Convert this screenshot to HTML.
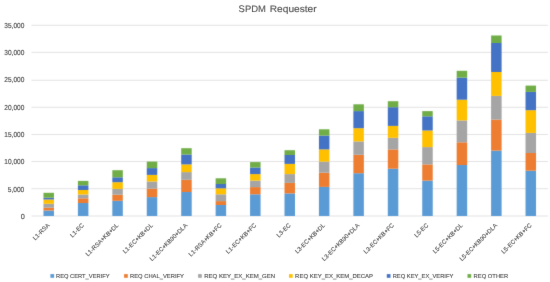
<!DOCTYPE html>
<html><head><meta charset="utf-8"><style>
html,body{margin:0;padding:0;background:#fff;width:550px;height:282px;overflow:hidden}
svg{display:block;text-rendering:geometricPrecision}
.ax{font-family:'Liberation Sans', Arial, sans-serif;font-size:6px;fill:#505050;stroke:#505050;stroke-width:0.12px}
.yl{font-family:'Liberation Sans', Arial, sans-serif;font-size:7.3px;fill:#505050;stroke:#505050;stroke-width:0.16px}
.lg{font-family:'Liberation Sans', Arial, sans-serif;font-size:5.7px;fill:#505050;stroke:#505050;stroke-width:0.12px}
.tt{font-family:'Liberation Sans', Arial, sans-serif;font-size:9.5px;fill:#505050;stroke:#505050;stroke-width:0.12px}
</style></head><body>
<svg width="550" height="282" viewBox="0 0 550 282">
<defs>
<filter id="bg" x="0" y="0" width="550" height="282" filterUnits="userSpaceOnUse" color-interpolation-filters="sRGB"><feConvolveMatrix order="3" kernelMatrix="0.01134 0.08382 0.01134 0.08382 0.61935 0.08382 0.01134 0.08382 0.01134" edgeMode="duplicate" preserveAlpha="true"/></filter>
<filter id="bt" x="0" y="0" width="550" height="282" filterUnits="userSpaceOnUse" color-interpolation-filters="sRGB"><feConvolveMatrix order="3" kernelMatrix="0.00276 0.04704 0.00276 0.04704 0.80077 0.04704 0.00276 0.04704 0.00276" edgeMode="none"/></filter>
</defs>
<g filter="url(#bg)">
<rect width="550" height="282" fill="#fff"/>
<line x1="31.5" y1="216.00" x2="548.0" y2="216.00" stroke="#E0E0E0" stroke-width="0.9"/>
<line x1="31.5" y1="188.70" x2="548.0" y2="188.70" stroke="#E0E0E0" stroke-width="0.9"/>
<line x1="31.5" y1="161.50" x2="548.0" y2="161.50" stroke="#E0E0E0" stroke-width="0.9"/>
<line x1="31.5" y1="134.50" x2="548.0" y2="134.50" stroke="#E0E0E0" stroke-width="0.9"/>
<line x1="31.5" y1="107.30" x2="548.0" y2="107.30" stroke="#E0E0E0" stroke-width="0.9"/>
<line x1="31.5" y1="80.30" x2="548.0" y2="80.30" stroke="#E0E0E0" stroke-width="0.9"/>
<line x1="31.5" y1="52.40" x2="548.0" y2="52.40" stroke="#E0E0E0" stroke-width="0.9"/>
<line x1="31.5" y1="25.30" x2="548.0" y2="25.30" stroke="#E0E0E0" stroke-width="0.9"/>
<rect x="43.47" y="210.50" width="10.5" height="5.50" fill="#5B9BD5"/>
<rect x="43.47" y="207.70" width="10.5" height="2.80" fill="#ED7D31"/>
<rect x="43.47" y="203.80" width="10.5" height="3.90" fill="#A5A5A5"/>
<rect x="43.47" y="199.50" width="10.5" height="4.30" fill="#FFC000"/>
<rect x="43.47" y="197.70" width="10.5" height="1.80" fill="#4472C4"/>
<rect x="43.47" y="192.80" width="10.5" height="4.90" fill="#70AD47"/>
<rect x="77.90" y="203.00" width="10.5" height="13.00" fill="#5B9BD5"/>
<rect x="77.90" y="198.30" width="10.5" height="4.70" fill="#ED7D31"/>
<rect x="77.90" y="194.50" width="10.5" height="3.80" fill="#A5A5A5"/>
<rect x="77.90" y="190.00" width="10.5" height="4.50" fill="#FFC000"/>
<rect x="77.90" y="185.30" width="10.5" height="4.70" fill="#4472C4"/>
<rect x="77.90" y="180.90" width="10.5" height="4.40" fill="#70AD47"/>
<rect x="112.33" y="200.80" width="10.5" height="15.20" fill="#5B9BD5"/>
<rect x="112.33" y="194.70" width="10.5" height="6.10" fill="#ED7D31"/>
<rect x="112.33" y="188.90" width="10.5" height="5.80" fill="#A5A5A5"/>
<rect x="112.33" y="182.20" width="10.5" height="6.70" fill="#FFC000"/>
<rect x="112.33" y="177.30" width="10.5" height="4.90" fill="#4472C4"/>
<rect x="112.33" y="170.20" width="10.5" height="7.10" fill="#70AD47"/>
<rect x="146.77" y="197.10" width="10.5" height="18.90" fill="#5B9BD5"/>
<rect x="146.77" y="188.60" width="10.5" height="8.50" fill="#ED7D31"/>
<rect x="146.77" y="181.50" width="10.5" height="7.10" fill="#A5A5A5"/>
<rect x="146.77" y="174.90" width="10.5" height="6.60" fill="#FFC000"/>
<rect x="146.77" y="168.10" width="10.5" height="6.80" fill="#4472C4"/>
<rect x="146.77" y="161.60" width="10.5" height="6.50" fill="#70AD47"/>
<rect x="181.20" y="192.00" width="10.5" height="24.00" fill="#5B9BD5"/>
<rect x="181.20" y="179.80" width="10.5" height="12.20" fill="#ED7D31"/>
<rect x="181.20" y="172.10" width="10.5" height="7.70" fill="#A5A5A5"/>
<rect x="181.20" y="164.40" width="10.5" height="7.70" fill="#FFC000"/>
<rect x="181.20" y="154.50" width="10.5" height="9.90" fill="#4472C4"/>
<rect x="181.20" y="148.20" width="10.5" height="6.30" fill="#70AD47"/>
<rect x="215.63" y="205.00" width="10.5" height="11.00" fill="#5B9BD5"/>
<rect x="215.63" y="201.10" width="10.5" height="3.90" fill="#ED7D31"/>
<rect x="215.63" y="194.30" width="10.5" height="6.80" fill="#A5A5A5"/>
<rect x="215.63" y="188.30" width="10.5" height="6.00" fill="#FFC000"/>
<rect x="215.63" y="184.00" width="10.5" height="4.30" fill="#4472C4"/>
<rect x="215.63" y="178.30" width="10.5" height="5.70" fill="#70AD47"/>
<rect x="250.07" y="194.30" width="10.5" height="21.70" fill="#5B9BD5"/>
<rect x="250.07" y="187.10" width="10.5" height="7.20" fill="#ED7D31"/>
<rect x="250.07" y="180.60" width="10.5" height="6.50" fill="#A5A5A5"/>
<rect x="250.07" y="174.10" width="10.5" height="6.50" fill="#FFC000"/>
<rect x="250.07" y="167.50" width="10.5" height="6.60" fill="#4472C4"/>
<rect x="250.07" y="162.10" width="10.5" height="5.40" fill="#70AD47"/>
<rect x="284.50" y="193.40" width="10.5" height="22.60" fill="#5B9BD5"/>
<rect x="284.50" y="182.90" width="10.5" height="10.50" fill="#ED7D31"/>
<rect x="284.50" y="174.10" width="10.5" height="8.80" fill="#A5A5A5"/>
<rect x="284.50" y="163.90" width="10.5" height="10.20" fill="#FFC000"/>
<rect x="284.50" y="155.00" width="10.5" height="8.90" fill="#4472C4"/>
<rect x="284.50" y="150.20" width="10.5" height="4.80" fill="#70AD47"/>
<rect x="318.93" y="186.90" width="10.5" height="29.10" fill="#5B9BD5"/>
<rect x="318.93" y="172.70" width="10.5" height="14.20" fill="#ED7D31"/>
<rect x="318.93" y="161.60" width="10.5" height="11.10" fill="#A5A5A5"/>
<rect x="318.93" y="149.40" width="10.5" height="12.20" fill="#FFC000"/>
<rect x="318.93" y="135.60" width="10.5" height="13.80" fill="#4472C4"/>
<rect x="318.93" y="129.30" width="10.5" height="6.30" fill="#70AD47"/>
<rect x="353.37" y="173.20" width="10.5" height="42.80" fill="#5B9BD5"/>
<rect x="353.37" y="154.80" width="10.5" height="18.40" fill="#ED7D31"/>
<rect x="353.37" y="141.40" width="10.5" height="13.40" fill="#A5A5A5"/>
<rect x="353.37" y="128.20" width="10.5" height="13.20" fill="#FFC000"/>
<rect x="353.37" y="111.10" width="10.5" height="17.10" fill="#4472C4"/>
<rect x="353.37" y="104.30" width="10.5" height="6.80" fill="#70AD47"/>
<rect x="387.80" y="168.70" width="10.5" height="47.30" fill="#5B9BD5"/>
<rect x="387.80" y="149.40" width="10.5" height="19.30" fill="#ED7D31"/>
<rect x="387.80" y="137.80" width="10.5" height="11.60" fill="#A5A5A5"/>
<rect x="387.80" y="125.90" width="10.5" height="11.90" fill="#FFC000"/>
<rect x="387.80" y="107.20" width="10.5" height="18.70" fill="#4472C4"/>
<rect x="387.80" y="101.20" width="10.5" height="6.00" fill="#70AD47"/>
<rect x="422.23" y="180.60" width="10.5" height="35.40" fill="#5B9BD5"/>
<rect x="422.23" y="164.40" width="10.5" height="16.20" fill="#ED7D31"/>
<rect x="422.23" y="147.10" width="10.5" height="17.30" fill="#A5A5A5"/>
<rect x="422.23" y="130.50" width="10.5" height="16.60" fill="#FFC000"/>
<rect x="422.23" y="116.30" width="10.5" height="14.20" fill="#4472C4"/>
<rect x="422.23" y="111.10" width="10.5" height="5.20" fill="#70AD47"/>
<rect x="456.67" y="165.00" width="10.5" height="51.00" fill="#5B9BD5"/>
<rect x="456.67" y="142.30" width="10.5" height="22.70" fill="#ED7D31"/>
<rect x="456.67" y="120.40" width="10.5" height="21.90" fill="#A5A5A5"/>
<rect x="456.67" y="99.70" width="10.5" height="20.70" fill="#FFC000"/>
<rect x="456.67" y="77.60" width="10.5" height="22.10" fill="#4472C4"/>
<rect x="456.67" y="70.80" width="10.5" height="6.80" fill="#70AD47"/>
<rect x="491.10" y="150.60" width="10.5" height="65.40" fill="#5B9BD5"/>
<rect x="491.10" y="119.60" width="10.5" height="31.00" fill="#ED7D31"/>
<rect x="491.10" y="95.90" width="10.5" height="23.70" fill="#A5A5A5"/>
<rect x="491.10" y="72.00" width="10.5" height="23.90" fill="#FFC000"/>
<rect x="491.10" y="43.00" width="10.5" height="29.00" fill="#4472C4"/>
<rect x="491.10" y="35.50" width="10.5" height="7.50" fill="#70AD47"/>
<rect x="525.53" y="170.70" width="10.5" height="45.30" fill="#5B9BD5"/>
<rect x="525.53" y="153.00" width="10.5" height="17.70" fill="#ED7D31"/>
<rect x="525.53" y="132.90" width="10.5" height="20.10" fill="#A5A5A5"/>
<rect x="525.53" y="110.20" width="10.5" height="22.70" fill="#FFC000"/>
<rect x="525.53" y="91.90" width="10.5" height="18.30" fill="#4472C4"/>
<rect x="525.53" y="85.60" width="10.5" height="6.30" fill="#70AD47"/>
<rect x="50.4" y="274.1" width="3.7" height="3.7" fill="#5B9BD5"/>
<rect x="124.10000000000001" y="274.1" width="3.7" height="3.7" fill="#ED7D31"/>
<rect x="198.1" y="274.1" width="3.7" height="3.7" fill="#A5A5A5"/>
<rect x="289.0" y="274.1" width="3.7" height="3.7" fill="#FFC000"/>
<rect x="386.79999999999995" y="274.1" width="3.7" height="3.7" fill="#4472C4"/>
<rect x="467.5" y="274.1" width="3.7" height="3.7" fill="#70AD47"/>
</g>
<g filter="url(#bt)">
<text x="24.7" y="218.83" text-anchor="end" class="yl">0</text>
<text x="24.3" y="191.51" text-anchor="end" class="yl" textLength="16.6" lengthAdjust="spacingAndGlyphs">5,000</text>
<text x="24.3" y="164.19" text-anchor="end" class="yl" textLength="20.0" lengthAdjust="spacingAndGlyphs">10,000</text>
<text x="24.3" y="136.87" text-anchor="end" class="yl" textLength="20.0" lengthAdjust="spacingAndGlyphs">15,000</text>
<text x="24.3" y="109.55" text-anchor="end" class="yl" textLength="20.0" lengthAdjust="spacingAndGlyphs">20,000</text>
<text x="24.3" y="82.23" text-anchor="end" class="yl" textLength="20.0" lengthAdjust="spacingAndGlyphs">25,000</text>
<text x="24.3" y="54.91" text-anchor="end" class="yl" textLength="20.0" lengthAdjust="spacingAndGlyphs">30,000</text>
<text x="24.3" y="27.59" text-anchor="end" class="yl" textLength="20.0" lengthAdjust="spacingAndGlyphs">35,000</text>
<text x="50.02" y="225.70" text-anchor="end" class="ax" transform="rotate(-45 50.02 225.70)">L1-RSA</text>
<text x="84.45" y="225.70" text-anchor="end" class="ax" transform="rotate(-45 84.45 225.70)">L1-EC</text>
<text x="118.88" y="225.70" text-anchor="end" class="ax" transform="rotate(-45 118.88 225.70)">L1-RSA+KB+DL</text>
<text x="153.32" y="225.70" text-anchor="end" class="ax" transform="rotate(-45 153.32 225.70)">L1-EC+KB+DL</text>
<text x="187.75" y="225.70" text-anchor="end" class="ax" transform="rotate(-45 187.75 225.70)">L1-EC+KB90+DLA</text>
<text x="222.18" y="225.70" text-anchor="end" class="ax" transform="rotate(-45 222.18 225.70)">L1-RSA+KB+FC</text>
<text x="256.62" y="225.70" text-anchor="end" class="ax" transform="rotate(-45 256.62 225.70)">L1-EC+KB+FC</text>
<text x="291.05" y="225.70" text-anchor="end" class="ax" transform="rotate(-45 291.05 225.70)">L3-EC</text>
<text x="325.48" y="225.70" text-anchor="end" class="ax" transform="rotate(-45 325.48 225.70)">L3-EC+KB+DL</text>
<text x="359.92" y="225.70" text-anchor="end" class="ax" transform="rotate(-45 359.92 225.70)">L3-EC+KB90+DLA</text>
<text x="394.35" y="225.70" text-anchor="end" class="ax" transform="rotate(-45 394.35 225.70)">L3-EC+KB+FC</text>
<text x="428.78" y="225.70" text-anchor="end" class="ax" transform="rotate(-45 428.78 225.70)">L5-EC</text>
<text x="463.22" y="225.70" text-anchor="end" class="ax" transform="rotate(-45 463.22 225.70)">L5-EC+KB+DL</text>
<text x="497.65" y="225.70" text-anchor="end" class="ax" transform="rotate(-45 497.65 225.70)">L5-EC+KB90+DLA</text>
<text x="532.08" y="225.70" text-anchor="end" class="ax" transform="rotate(-45 532.08 225.70)">L5-EC+KB+FC</text>
<text x="56" y="277.6" class="lg" textLength="53.6" lengthAdjust="spacingAndGlyphs">REQ CERT_VERIFY</text>
<text x="130" y="277.6" class="lg" textLength="54.0" lengthAdjust="spacingAndGlyphs">REQ CHAL_VERIFY</text>
<text x="204.2" y="277.6" class="lg" textLength="70.9" lengthAdjust="spacingAndGlyphs">REQ KEY_EX_KEM_GEN</text>
<text x="295.1" y="277.6" class="lg" textLength="78.0" lengthAdjust="spacingAndGlyphs">REQ KEY_EX_KEM_DECAP</text>
<text x="392.7" y="277.6" class="lg" textLength="60.6" lengthAdjust="spacingAndGlyphs">REQ KEY_EX_VERIFY</text>
<text x="473.6" y="277.6" class="lg" textLength="34.6" lengthAdjust="spacingAndGlyphs">REQ OTHER</text>
<text y="11.5" class="tt"><tspan x="238.6" textLength="27.3" lengthAdjust="spacingAndGlyphs">SPDM</tspan> <tspan x="269.8" textLength="46.8" lengthAdjust="spacingAndGlyphs">Requester</tspan></text>
</g>
</svg>
</body></html>
